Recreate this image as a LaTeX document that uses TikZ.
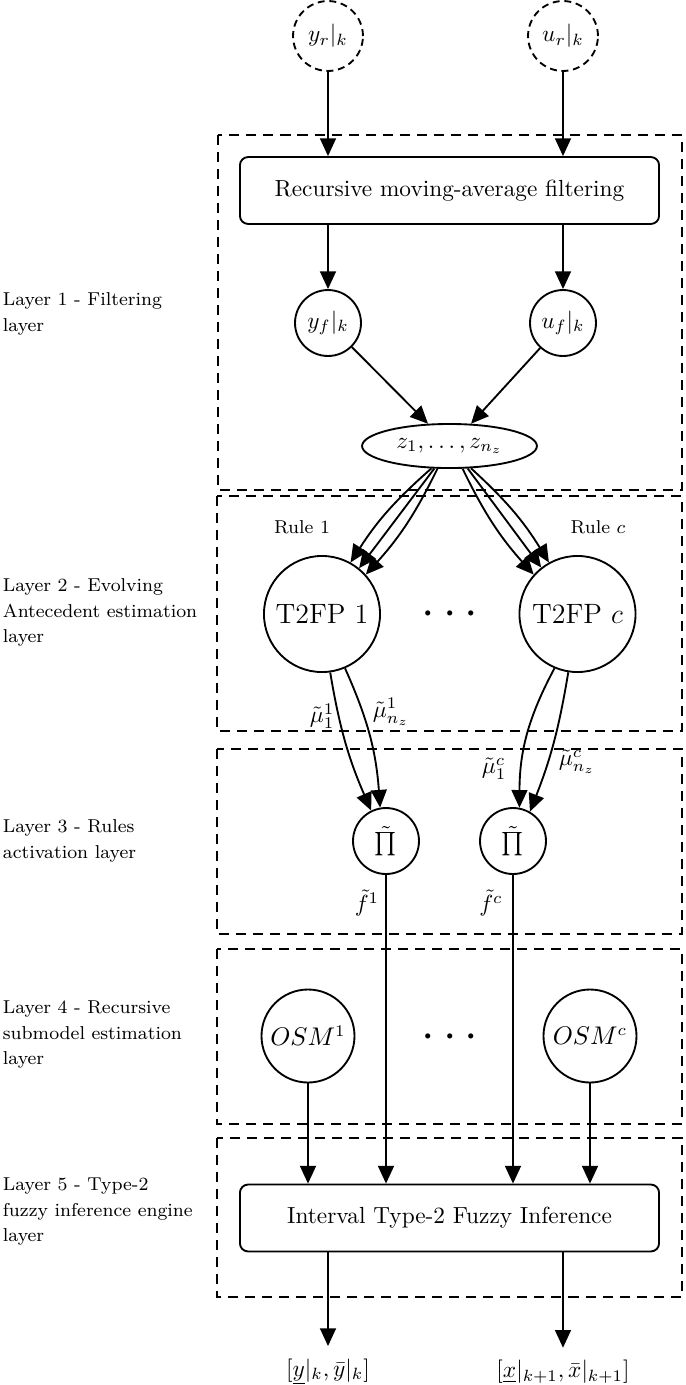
\documentclass[tikz,border=0pt]{standalone}
\usetikzlibrary{arrows.meta,shapes.geometric}
\begin{document}
\begin{tikzpicture}[x=0.429pt,y=-0.429pt,line width=0.8pt,
  >={Triangle[length=7.6pt,width=6.8pt]},
  incirc/.style={circle,draw,dash pattern=on 3pt off 2pt,minimum size=30pt,inner sep=0pt},
  proc/.style={draw,rounded corners=3.5pt,minimum width=179.8pt,minimum height=28.7pt,inner sep=0pt},
  sig/.style={circle,draw,minimum size=28.3pt,inner sep=0pt},
  rulec/.style={circle,draw,minimum size=49.8pt,inner sep=0pt,font=\large},
  osm/.style={circle,draw,minimum size=39.9pt,inner sep=0pt,font=\fontsize{10.5}{12}\selectfont},
  zell/.style={ellipse,draw,minimum width=75pt,minimum height=18.9pt,inner sep=0pt},
  layerbox/.style={draw,dash pattern=on 4.3pt off 3pt},
  lab/.style={align=left,anchor=north west,inner sep=0pt,font=\fontsize{8}{10.9}\selectfont},
  rulel/.style={font=\fontsize{8}{10}\selectfont},
  dotsn/.style={anchor=base,inner sep=0pt,font=\huge},
  mul/.style={inner sep=1pt},
  outl/.style={inner sep=5pt}]
\useasboundingbox (0,0) rectangle (685,1385);

% layer boxes
\draw[layerbox] (218,135) rectangle (682,490);
\draw[layerbox] (217,496) rectangle (682,731);
\draw[layerbox] (217,749) rectangle (682,934);
\draw[layerbox] (217,949) rectangle (682,1124);
\draw[layerbox] (217,1138) rectangle (682,1297);

% layer labels
\node[lab] (l1) at (2,292) {Layer 1 - Filtering\\layer};
\node[lab] (l2) at (2,578) {Layer 2 - Evolving\\Antecedent estimation\\layer};
\node[lab] (l3) at (2,819) {Layer 3 - Rules\\activation layer};
\node[lab] (l4) at (2,1000) {Layer 4 - Recursive\\submodel estimation\\layer};
\node[lab] (l5) at (2,1177) {Layer 5 - Type-2\\fuzzy inference engine\\layer};

% nodes
\node[incirc] (yr) at (328,36) {$y_r|_k$};
\node[incirc] (ur) at (563,36) {$u_r|_k$};
\node[proc] (filt) at (449.5,190.5) {Recursive moving-average filtering};
\node[sig] (yf) at (328,323) {$y_f|_k$};
\node[sig] (uf) at (563,323) {$u_f|_k$};
\node[zell] (z) at (449.5,446) {$z_1,\ldots,z_{n_z}$};
\node[rulel] (r1) at (302,527) {Rule 1};
\node[rulel] (rc) at (598,527) {Rule $c$};
\node[rulec] (t1) at (322,614) {T2FP 1};
\node[rulec] (tc) at (577.5,614) {T2FP $c$};
\node[dotsn] (d1) at (450,625) {$\cdots$};
\node[sig,font=\fontsize{11}{13}\selectfont] (p1) at (386,841) {$\tilde{\prod}$};
\node[sig,font=\fontsize{11}{13}\selectfont] (pc) at (513,841) {$\tilde{\prod}$};
\node[osm] (o1) at (308,1036) {$OSM^1$};
\node[osm] (oc) at (590,1036) {$OSM^c$};
\node[dotsn] (d2) at (450,1048) {$\cdots$};
\node[proc] (inf) at (449.5,1218) {Interval Type-2 Fuzzy Inference};
\node[outl] (out1) at (328,1372) {$[\underline{y}|_k,\bar{y}|_k]$};
\node[outl] (out2) at (563,1372) {$[\underline{x}|_{k+1},\bar{x}|_{k+1}]$};

% labels on connectors
\node[mul] (m11) at (322,716) {$\tilde{\mu}^1_1$};
\node[mul] (m1n) at (391,712) {$\tilde{\mu}^1_{n_z}$};
\node[mul] (mc1) at (494,769) {$\tilde{\mu}^c_1$};
\node[mul] (mcn) at (577,762) {$\tilde{\mu}^c_{n_z}$};
\node[mul] (f1) at (367,903) {$\tilde{f}^1$};
\node[mul] (fc) at (491,903) {$\tilde{f}^c$};

% connectors
\draw[->] (yr) -- (yr |- filt.north);
\draw[->] (ur) -- (ur |- filt.north);
\draw[->] (yf |- filt.south) -- (yf);
\draw[->] (uf |- filt.south) -- (uf);
\draw[->] (yf) -- (z.134);
\draw[->] (uf) -- (z.46);

\draw[->] (z.231) to[bend right=8] (t1.61);
\draw[->] (z.236) -- (t1.51);
\draw[->] (z.242) to[bend left=8] (t1.42);
\draw[->] (z.300) to[bend right=8] (tc.138);
\draw[->] (z.309) -- (tc.128);
\draw[->] (z.314) to[bend left=8] (tc.119);

\draw[->] (t1.278) to[bend right=7] (p1.116);
\draw[->] (t1.293) to[bend left=10] (p1.100);
\draw[->] (tc.247) to[bend right=14] (pc.79);
\draw[->] (tc.261) to[bend left=6] (pc.60);

\draw[->] (p1) -- (p1 |- inf.north);
\draw[->] (pc) -- (pc |- inf.north);
\draw[->] (o1) -- (o1 |- inf.north);
\draw[->] (oc) -- (oc |- inf.north);
\draw[->] (out1 |- inf.south) -- (out1);
\draw[->] (out2 |- inf.south) -- (out2);
\end{tikzpicture}
\end{document}
